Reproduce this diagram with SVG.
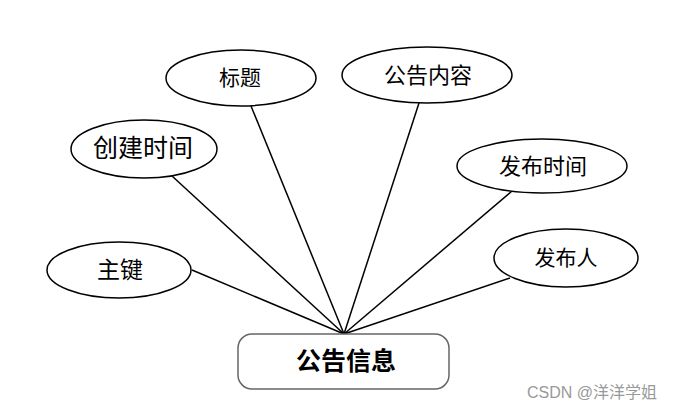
<svg xmlns="http://www.w3.org/2000/svg" width="678" height="409" viewBox="0 0 678 409">
<style>
.bg{fill:#fff}
.attr ellipse{fill:#fff;stroke:#000;stroke-width:1.5}
.attr text{font-family:"Liberation Serif","Noto Sans CJK SC",serif;fill:#000;text-anchor:middle;dominant-baseline:central}
.conn line{stroke:#000;stroke-width:1.5}
.ent rect{fill:#fff;stroke:#666;stroke-width:1.5}
.ent text{font-family:"Liberation Serif","Noto Sans CJK SC",serif;font-weight:bold;font-size:25px;fill:#000;text-anchor:middle;dominant-baseline:central}
.wm{font-family:"Liberation Sans","Noto Sans CJK SC",sans-serif;font-size:16px;fill:#999}
</style>
<rect class="bg" width="678" height="409"/>
<g class="conn">
<line x1="192" y1="270" x2="344" y2="334"/>
<line x1="172" y1="176" x2="344" y2="334"/>
<line x1="251" y1="106" x2="344" y2="334"/>
<line x1="419" y1="103" x2="344" y2="334"/>
<line x1="512" y1="191" x2="344" y2="334"/>
<line x1="510" y1="278" x2="344" y2="334"/>
</g>
<g id="entity" class="ent">
<rect x="238" y="334" width="211" height="55" rx="14"/>
<text x="346" y="361">公告信息</text>
</g>
<g id="attr-zhujian" class="attr">
<ellipse cx="119" cy="270" rx="72" ry="28"/>
<text x="120" y="270" font-size="23">主键</text>
</g>
<g id="attr-chuangjian" class="attr">
<ellipse cx="144" cy="149" rx="73" ry="29"/>
<text x="143" y="148" font-size="25">创建时间</text>
</g>
<g id="attr-biaoti" class="attr">
<ellipse cx="241" cy="78" rx="75" ry="28"/>
<text x="240" y="78" font-size="21">标题</text>
</g>
<g id="attr-neirong" class="attr">
<ellipse cx="427" cy="75" rx="85" ry="28"/>
<text x="428" y="75" font-size="22">公告内容</text>
</g>
<g id="attr-fabushijian" class="attr">
<ellipse cx="542" cy="166" rx="85" ry="27"/>
<text x="543" y="166" font-size="22">发布时间</text>
</g>
<g id="attr-faburen" class="attr">
<ellipse cx="566" cy="258" rx="72" ry="29"/>
<text x="566" y="258" font-size="21">发布人</text>
</g>
<text class="wm" x="527" y="398">CSDN @洋洋学姐</text>
</svg>
